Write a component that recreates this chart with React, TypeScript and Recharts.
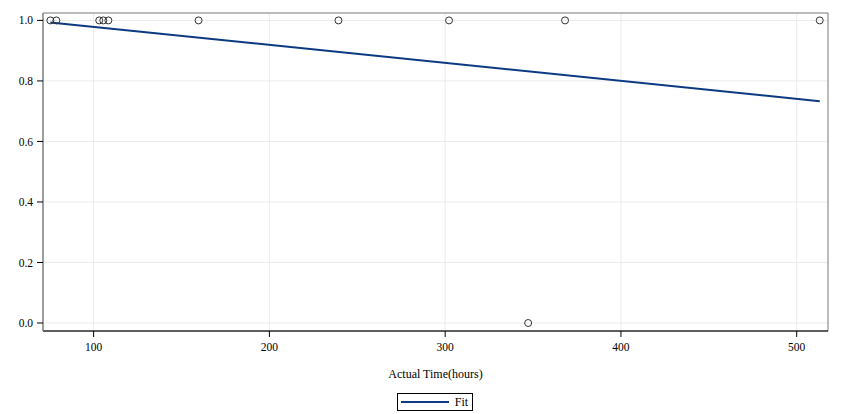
import {
  ComposedChart,
  Scatter,
  XAxis,
  YAxis,
  CartesianGrid,
  ReferenceArea,
  Legend,
} from "recharts";

// observed events (actual time vs. status)
const timeHours = [75.4, 78.8, 103.2, 105.5, 108.4, 159.7, 239.3, 302.2, 347.2, 368.2, 513.1];
const status = [1, 1, 1, 1, 1, 1, 1, 1, 0, 1, 1];

// fitted line end points
const fitTime = [75.4, 513.1];
const fitValue = [0.993, 0.733];

const xTicks = [100, 200, 300, 400, 500];
const yTicks = [0, 0.2, 0.4, 0.6, 0.8, 1.0];

const X_DOMAIN: [number, number] = [71.2, 517.8];
const Y_DOMAIN: [number, number] = [-0.0264, 1.0245];

const FONT = "'Liberation Serif', 'Times New Roman', serif";
const FIT_COLOR = "#0b3a82";

const points = timeHours.map((t, i) => ({ x: t, y: status[i] }));
const fitLine = fitTime.map((t, i) => ({ x: t, y: fitValue[i] }));

const Ring = (props: any) => {
  const { cx, cy } = props;
  if (cx == null || cy == null) return null;
  return <circle cx={cx} cy={cy} r={3.5} fill="none" stroke="#333" strokeWidth={1} />;
};

const FitLegend = () => (
  <div style={{ display: "flex", justifyContent: "center", paddingTop: 7, paddingLeft: 34 }}>
    <div
      style={{
        display: "flex",
        alignItems: "center",
        border: "1px solid #000",
        height: 16,
        padding: "0 4px 0 3px",
        fontFamily: FONT,
        fontSize: 12,
        color: "#000",
      }}
    >
      <svg width={48} height={4} style={{ marginRight: 6 }}>
        <line x1={0} y1={2} x2={48} y2={2} stroke={FIT_COLOR} strokeWidth={2} />
      </svg>
      Fit
    </div>
  </div>
);

export default function App() {
  return (
    <ComposedChart
      width={848}
      height={406}
      margin={{ top: 5, right: 28, left: 0, bottom: 0 }}
      style={{ fontFamily: FONT }}
    >
      <CartesianGrid stroke="#ebebeb" />
      <XAxis
        type="number"
        dataKey="x"
        domain={X_DOMAIN}
        ticks={xTicks}
        allowDataOverflow
        height={55}
        stroke="#000"
        tickSize={6}
        tickMargin={6}
        tick={{ fill: "#000", fontSize: 11.5, fontFamily: FONT }}
        label={{
          value: "Actual Time(hours)",
          position: "insideBottom",
          offset: 8,
          fill: "#000",
          fontSize: 12,
          fontFamily: FONT,
        }}
      />
      <YAxis
        type="number"
        dataKey="y"
        domain={Y_DOMAIN}
        ticks={yTicks}
        allowDataOverflow
        width={35}
        stroke="#808080"
        tickLine={{ stroke: "#000" }}
        tickSize={6}
        tickMargin={4}
        tickFormatter={(v: number) => v.toFixed(1)}
        tick={{ fill: "#000", fontSize: 11.5, fontFamily: FONT }}
      />
      <ReferenceArea
        x1={X_DOMAIN[0]}
        x2={X_DOMAIN[1]}
        y1={Y_DOMAIN[0]}
        y2={Y_DOMAIN[1]}
        fill="none"
        stroke="#808080"
        strokeWidth={1}
        ifOverflow="visible"
      />
      <Scatter
        data={fitLine}
        line={{ stroke: FIT_COLOR, strokeWidth: 2 }}
        shape={() => null}
        isAnimationActive={false}
        legendType="none"
      />
      <Scatter data={points} shape={Ring} isAnimationActive={false} legendType="none" />
      <Legend verticalAlign="bottom" height={28} content={FitLegend} />
    </ComposedChart>
  );
}
